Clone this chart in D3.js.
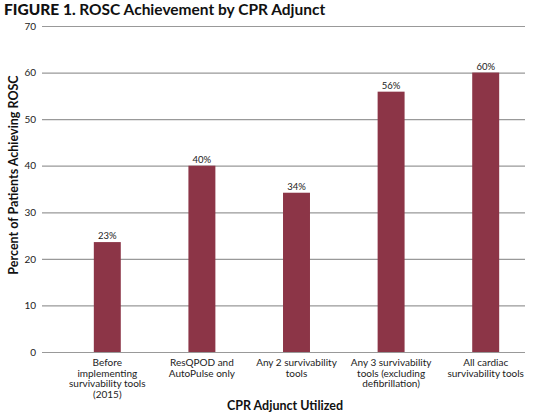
<!DOCTYPE html>
<html lang="en">
<head>
    <meta charset="UTF-8">
    <script type="text/javascript" src="https://cdn.jsdelivr.net/npm/d3@7"></script>
    <title>ROSC by CPR Adjunct</title>
    <style>
        body { margin: 0; background: #fff; }
        text { font-family: Lato, "Open Sans", sans-serif; }
    </style>
</head>
<body>
</body>
<script>

    let categories = [
        ["Before", "implementing", "survivability tools", "(2015)"],
        ["ResQPOD and", "AutoPulse only"],
        ["Any 2 survivability", "tools"],
        ["Any 3 survivability", "tools (excluding", "defibrillation)"],
        ["All cardiac", "survivability tools"]
    ]
    let values = [23.6, 40, 34.2, 55.9, 60]
    let valueLabels = ["23%", "40%", "34%", "56%", "60%"]
    let yTicks = [0, 10, 20, 30, 40, 50, 60, 70]

    let width = 537,
        height = 417,
        barColor = "#8c3547"

    let svg = d3.select("body")
        .append("svg")
        .attr("width", width)
        .attr("height", height)

    let x = d3.scaleBand()
        .domain(d3.range(categories.length))
        .range([60, 533])
        .paddingInner(0.715)
        .paddingOuter(0.3575)

    let y = d3.scaleLinear()
        .domain([0, 70])
        .range([352, 26])

    // title
    let title = svg.append("text")
        .attr("x", 4)
        .attr("y", 15)
        .attr("font-size", 15.5)
        .attr("fill", "#111")
    title.append("tspan").attr("font-weight", 900).text("FIGURE 1. ")
    title.append("tspan").attr("font-weight", 700).text("ROSC Achievement by CPR Adjunct")

    // gridlines + y ticks
    let yAxis = svg.append("g")
        .attr("transform", "translate(42,0)")
        .call(d3.axisLeft(y).tickValues(yTicks).tickSize(-483).tickPadding(6))
    yAxis.select(".domain").remove()
    yAxis.selectAll("line").attr("stroke", "#999").attr("stroke-width", 1.2)
    yAxis.selectAll("text")
        .attr("font-size", 10)
        .attr("fill", "#222")
        .attr("font-family", "Lato, sans-serif")

    // bars
    svg.append("g").selectAll("rect")
        .data(values)
        .enter()
        .append("rect")
        .attr("x", (d, i) => x(i))
        .attr("y", d => y(d))
        .attr("width", x.bandwidth())
        .attr("height", d => y(0) - y(d))
        .attr("fill", barColor)

    // value labels
    svg.append("g").selectAll("text")
        .data(values)
        .enter()
        .append("text")
        .attr("x", (d, i) => x(i) + x.bandwidth() / 2)
        .attr("y", d => y(d) - 3)
        .attr("text-anchor", "middle")
        .attr("font-size", 9.5)
        .attr("fill", "#222")
        .text((d, i) => valueLabels[i])

    // category labels
    svg.append("g").selectAll("text")
        .data(categories)
        .enter()
        .append("text")
        .attr("text-anchor", "middle")
        .attr("font-size", 10)
        .attr("fill", "#222")
        .each(function (lines, i) {
            d3.select(this).selectAll("tspan")
                .data(lines)
                .enter()
                .append("tspan")
                .attr("x", x(i) + x.bandwidth() / 2)
                .attr("y", (l, j) => 366 + j * 10.7)
                .text(l => l)
        })

    // axis titles
    svg.append("text")
        .attr("x", 285)
        .attr("y", 410)
        .attr("text-anchor", "middle")
        .attr("font-size", 12.5)
        .attr("font-weight", 700)
        .attr("fill", "#111")
        .text("CPR Adjunct Utilized")

    svg.append("text")
        .attr("transform", "translate(18,175) rotate(-90)")
        .attr("text-anchor", "middle")
        .attr("font-size", 12.5)
        .attr("font-weight", 700)
        .attr("fill", "#111")
        .text("Percent of Patients Achieving ROSC")

</script>
</html>
